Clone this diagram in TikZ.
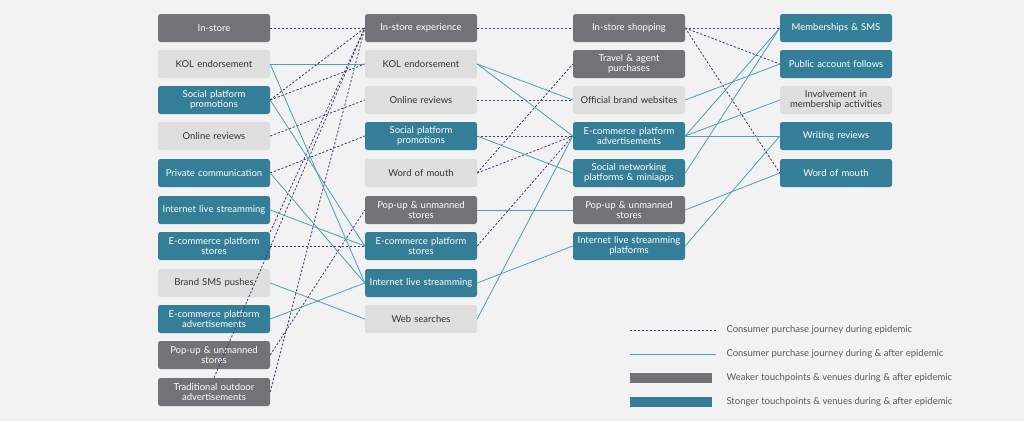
\documentclass[tikz,border=0pt]{standalone}
\usepackage{fontspec}
\setmainfont{Lato}
\begin{document}
\begin{tikzpicture}[x=1pt,y=-1pt,
  box/.style={rounded corners=2.5pt,minimum width=112pt,minimum height=28pt,inner sep=1pt,align=center,font=\fontsize{9.5}{10.5}\selectfont,text width=110pt},
  dk/.style={box,fill=dgrey,text=white},
  lt/.style={box,fill=lgrey,text=black!80},
  tl/.style={box,fill=teal1,text=white},
  sl/.style={draw=lteal,line width=0.8pt},
  dl/.style={draw=navy,line width=0.8pt,dash pattern=on 2.2pt off 1.8pt},
  lg/.style={font=\fontsize{9.5}{11}\selectfont,text=black!65,anchor=west}]
\definecolor{bg}{HTML}{F2F2F2}
\definecolor{dgrey}{HTML}{727377}
\definecolor{lgrey}{HTML}{DEDEDE}
\definecolor{teal1}{HTML}{357E98}
\definecolor{lteal}{HTML}{4F9DBA}
\definecolor{navy}{HTML}{3B3F6E}
\fill[bg] (0,0) rectangle (1024,421);
\useasboundingbox (0,0) rectangle (1024,421);
% column 1
\def\xa{214}\def\xb{421}\def\xc{629}\def\xd{836}
\node[dk] (a1) at (\xa,28) {In-store};
\node[lt] (a2) at (\xa,64) {KOL endorsement};
\node[tl] (a3) at (\xa,100) {Social platform\\promotions};
\node[lt] (a4) at (\xa,136) {Online reviews};
\node[tl] (a5) at (\xa,173) {Private communication};
\node[tl] (a6) at (\xa,210) {Internet live streamming};
\node[tl] (a7) at (\xa,246) {E-commerce platform\\stores};
\node[lt] (a8) at (\xa,283) {Brand SMS pushes};
\node[tl] (a9) at (\xa,319) {E-commerce platform\\advertisements};
\node[dk] (a10) at (\xa,355) {Pop-up \& unmanned\\stores};
\node[dk] (a11) at (\xa,392) {Traditional outdoor\\advertisements};
% column 2
\node[dk] (b1) at (\xb,28) {In-store experience};
\node[lt] (b2) at (\xb,64) {KOL endorsement};
\node[lt] (b3) at (\xb,100) {Online reviews};
\node[tl] (b4) at (\xb,136) {Social platform\\promotions};
\node[lt] (b5) at (\xb,173) {Word of mouth};
\node[dk] (b6) at (\xb,210) {Pop-up \& unmanned\\stores};
\node[tl] (b7) at (\xb,246) {E-commerce platform\\stores};
\node[tl] (b8) at (\xb,283) {Internet live streamming};
\node[lt] (b9) at (\xb,319) {Web searches};
% column 3
\node[dk] (c1) at (\xc,28) {In-store shopping};
\node[dk] (c2) at (\xc,64) {Travel \& agent\\purchases};
\node[lt] (c3) at (\xc,100) {Official brand websites};
\node[tl] (c4) at (\xc,136) {E-commerce platform\\advertisements};
\node[tl] (c5) at (\xc,173) {Social networking\\platforms \& miniapps};
\node[dk] (c6) at (\xc,210) {Pop-up \& unmanned\\stores};
\node[tl] (c7) at (\xc,246) {Internet live streamming\\platforms};
% column 4
\node[tl] (d1) at (\xd,28) {Memberships \& SMS};
\node[tl] (d2) at (\xd,64) {Public account follows};
\node[lt] (d3) at (\xd,100) {Involvement in\\membership activities};
\node[tl] (d4) at (\xd,136) {Writing reviews};
\node[tl] (d5) at (\xd,173) {Word of mouth};
% connectors
\begin{scope}[on background layer/.style={}]
\end{scope}
\begin{pgfonlayer}{main}\end{pgfonlayer}
% dashed col1-col2
\draw[dl] (a1.east) -- (b1.west);
\draw[dl] (a3.east) -- (b1.west);
\draw[dl] (a3.east) -- (b2.west);
\draw[dl] (a4.east) -- (b3.west);
\draw[dl] (a5.east) -- (b4.west);
\draw[dl] (a7.east) -- (b7.west);
\draw[dl] (a7.north east) -- (b1.west);
\draw[dl] (a10.east) -- (b6.west);
\draw[dl] (a11.east) -- (b1.west);
\draw[dl] (a11.north) -- (b1.west);
% solid col1-col2
\draw[sl] (a2.east) -- (b2.west);
\draw[sl] (a2.east) -- (b8.west);
\draw[sl] (a3.east) -- (b7.west);
\draw[sl] (a5.east) -- (b8.west);
\draw[sl] (a6.east) -- (b7.west);
\draw[sl] (a8.east) -- (b9.west);
\draw[sl] (a9.east) -- (b8.west);
% col2-col3
\draw[dl] (b1.east) -- (c1.west);
\draw[dl] (b3.east) -- (c3.west);
\draw[dl] (b4.east) -- (c4.west);
\draw[dl] (b5.east) -- (c2.west);
\draw[dl] (b5.east) -- (c4.west);
\draw[dl] (b7.east) -- (c4.west);
\draw[sl] (b2.east) -- (c3.west);
\draw[sl] (b2.east) -- (c4.west);
\draw[sl] (b4.east) -- (c5.west);
\draw[sl] (b6.east) -- (c6.west);
\draw[sl] (b8.east) -- (c7.west);
\draw[sl] (b9.east) -- (c4.west);
% col3-col4
\draw[dl] (c1.east) -- (d1.west);
\draw[dl] (c1.east) -- (d2.west);
\draw[dl] (c1.east) -- (d5.west);
\draw[sl] (c3.east) -- (d2.west);
\draw[sl] (c4.east) -- (d1.west);
\draw[sl] (c4.east) -- (d3.west);
\draw[sl] (c4.east) -- (d4.west);
\draw[sl] (c5.east) -- (d1.west);
\draw[sl] (c6.east) -- (d5.west);
\draw[sl] (c7.east) -- (d4.west);
% redraw boxes on top
\foreach \n in {a1,a2,a3,a4,a5,a6,a7,a8,a9,a10,a11,b1,b2,b3,b4,b5,b6,b7,b8,b9,c1,c2,c3,c4,c5,c6,c7,d1,d2,d3,d4,d5}{}
% legend
\coordinate (l1a) at (630,330); \coordinate (l1b) at (716,330);
\coordinate (l2a) at (630,354); \coordinate (l2b) at (716,354);
\draw[dl] (l1a) -- (l1b);
\draw[sl] (l2a) -- (l2b);
\node[fill=dgrey,minimum width=82pt,minimum height=10pt,inner sep=0pt] (k3) at (671,378) {};
\node[fill=teal1,minimum width=82pt,minimum height=10pt,inner sep=0pt] (k4) at (671,402) {};
\node[lg] (t1) at (723,330) {Consumer purchase journey during epidemic};
\node[lg] (t2) at (723,354) {Consumer purchase journey during \& after epidemic};
\node[lg] (t3) at (723,378) {Weaker touchpoints \& venues during \& after epidemic};
\node[lg] (t4) at (723,402) {Stonger touchpoints \& venues during \& after epidemic};
\end{tikzpicture}
\end{document}
